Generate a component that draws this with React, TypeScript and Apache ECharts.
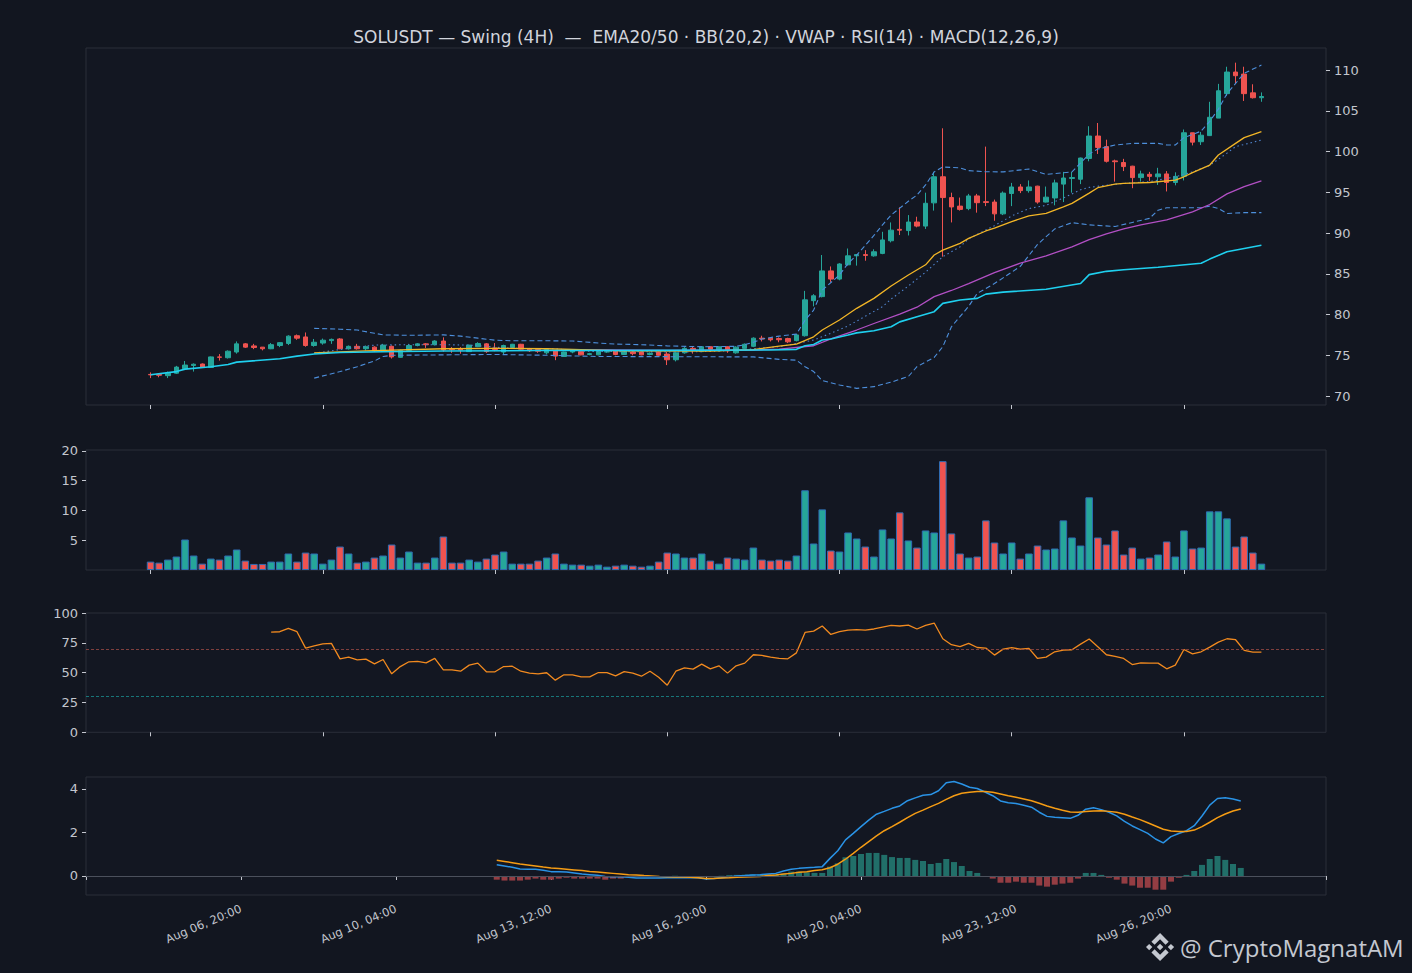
import React, { useEffect, useRef } from 'react';
import * as echarts from 'echarts';

// ---------------- data ----------------
const PAD = 7; // empty category slots on each side of the candles
const N_CATS = 144;
const MACD_X0 = 53; // position of first MACD point on the date axis (4H units)

// [open, close, low, high]
const CANDLES: number[][] = [
  [72.65, 72.6, 72.2, 72.9], [72.65, 72.55, 72.3, 72.8], [72.5, 72.8, 72.2, 73.0], [72.8, 73.55, 72.7, 73.7],
  [73.35, 73.8, 73.2, 74.3], [73.75, 73.9, 73.0, 74.0], [73.93, 73.5, 73.45, 74.0], [73.5, 74.8, 73.45, 74.85],
  [74.8, 74.75, 74.35, 75.15], [74.7, 75.5, 74.6, 75.6], [75.4, 76.4, 75.2, 76.7], [76.4, 76.0, 75.9, 76.5],
  [76.15, 75.95, 75.75, 76.4], [76.0, 75.8, 75.6, 76.0], [75.8, 76.3, 75.75, 76.5], [76.2, 76.55, 76.0, 76.6],
  [76.45, 77.35, 76.25, 77.45], [77.4, 77.1, 76.9, 77.55], [77.25, 76.2, 76.05, 77.8], [76.2, 76.6, 76.05, 77.0],
  [76.5, 76.85, 76.3, 77.05], [76.8, 76.95, 76.4, 77.05], [77.0, 75.8, 75.75, 77.1], [75.8, 76.1, 75.7, 76.2],
  [76.1, 75.8, 75.7, 76.4], [75.8, 76.05, 75.6, 76.2], [76.0, 75.55, 75.4, 76.1], [75.6, 76.25, 75.5, 76.4],
  [76.1, 74.8, 74.6, 76.2], [74.75, 75.6, 74.7, 75.7], [75.6, 76.2, 75.5, 76.4], [76.2, 76.4, 76.1, 76.5],
  [76.4, 76.3, 75.9, 76.5], [76.3, 76.75, 76.2, 76.85], [76.75, 75.65, 75.45, 77.2], [75.8, 75.7, 75.3, 76.0],
  [75.75, 75.65, 75.2, 76.0], [75.45, 76.25, 75.4, 76.3], [76.05, 76.45, 76.0, 76.6], [76.4, 75.45, 75.3, 76.5],
  [75.9, 75.7, 75.5, 76.5], [75.4, 76.2, 75.1, 76.3], [75.95, 76.35, 75.9, 76.4], [76.35, 75.75, 75.7, 76.4],
  [75.75, 75.55, 75.4, 75.9], [75.7, 75.5, 75.3, 75.8], [75.3, 75.7, 75.1, 75.8], [75.55, 74.9, 74.4, 75.6],
  [74.85, 75.4, 74.8, 75.45], [75.4, 75.6, 75.25, 75.7], [75.45, 75.05, 75.0, 75.5], [75.1, 75.2, 75.0, 75.3],
  [75.05, 75.5, 75.0, 75.6], [75.4, 75.45, 75.3, 75.55], [75.5, 75.1, 75.0, 75.55], [75.1, 75.5, 75.05, 75.55],
  [75.4, 75.2, 75.0, 75.5], [75.4, 75.05, 75.0, 75.45], [75.1, 75.25, 75.0, 75.35], [75.4, 75.0, 74.95, 75.45],
  [75.15, 74.45, 73.8, 75.4], [74.45, 75.3, 74.25, 75.45], [75.3, 75.85, 75.2, 76.0], [75.85, 75.6, 75.2, 76.1],
  [75.45, 76.05, 75.4, 76.1], [76.05, 75.75, 75.6, 76.1], [75.55, 76.05, 75.5, 76.1], [76.05, 75.55, 75.3, 76.1],
  [75.3, 76.0, 75.2, 76.1], [75.85, 76.35, 75.8, 76.45], [76.1, 77.1, 76.0, 77.2], [77.1, 77.0, 76.7, 77.4],
  [77.1, 76.9, 76.7, 77.2], [77.05, 76.9, 76.6, 77.2], [77.05, 76.65, 76.5, 77.15], [76.8, 77.5, 76.7, 77.6],
  [77.4, 81.8, 77.3, 82.9], [81.7, 82.3, 81.0, 82.5], [82.2, 85.35, 82.1, 87.3], [85.35, 84.35, 84.0, 85.9],
  [84.35, 86.2, 84.2, 86.3], [86.1, 87.2, 86.0, 88.1], [87.2, 87.35, 86.0, 87.4], [87.35, 87.25, 86.6, 87.9],
  [87.2, 87.7, 87.1, 88.0], [87.5, 89.15, 87.4, 90.15], [89.05, 90.35, 88.85, 91.3], [90.45, 90.35, 89.75, 93.15],
  [90.3, 91.35, 89.7, 92.2], [91.35, 90.85, 90.7, 92.0], [90.85, 93.65, 90.5, 94.95], [93.7, 96.9, 92.75, 97.5],
  [96.9, 94.35, 87.1, 102.85], [94.35, 93.2, 91.3, 94.95], [93.3, 92.9, 92.75, 94.35], [93.0, 94.55, 92.8, 94.8],
  [94.55, 93.72, 92.5, 94.8], [93.85, 93.75, 93.3, 100.6], [93.8, 92.35, 91.5, 94.1], [92.35, 94.9, 92.2, 95.1],
  [94.85, 95.65, 93.3, 96.15], [95.65, 95.2, 94.9, 96.0], [95.2, 95.65, 94.95, 96.45], [95.75, 93.8, 93.6, 95.8],
  [93.8, 94.4, 93.75, 95.7], [94.3, 96.15, 93.4, 96.55], [96.0, 96.75, 93.8, 97.5], [96.7, 96.8, 94.95, 97.5],
  [96.6, 99.2, 96.0, 99.25], [99.15, 101.9, 98.8, 103.1], [101.9, 100.5, 99.7, 103.5], [100.6, 98.8, 98.65, 101.45],
  [98.85, 98.75, 96.3, 99.0], [98.65, 98.15, 97.6, 99.1], [98.2, 96.8, 95.5, 98.25], [96.8, 97.25, 96.3, 97.65],
  [97.2, 96.95, 96.4, 97.5], [96.9, 97.25, 95.9, 98.0], [97.25, 96.2, 95.1, 97.6], [96.2, 96.95, 95.85, 97.45],
  [96.95, 102.3, 96.45, 102.7], [102.3, 101.15, 100.75, 102.3], [101.2, 102.0, 100.8, 102.4], [101.95, 104.2, 101.9, 106.1],
  [104.1, 107.45, 104.1, 108.3], [107.1, 109.75, 106.8, 110.4], [109.75, 109.3, 108.3, 110.9], [109.5, 107.1, 106.2, 110.4],
  [107.2, 106.6, 106.5, 108.25], [106.6, 106.75, 106.1, 107.25],
];

const VOLUME: number[] = [
  1.41, 1.24, 1.75, 2.26, 5.12, 2.43, 1.07, 1.92, 1.75, 2.43,
  3.44, 1.58, 1.02, 1.02, 1.41, 1.41, 2.77, 1.41, 2.93, 2.77,
  1.07, 1.75, 3.94, 2.77, 1.24, 1.41, 2.09, 2.43, 4.28, 2.09,
  3.1, 1.24, 1.24, 2.09, 5.63, 1.24, 1.24, 1.75, 1.41, 1.92,
  2.6, 3.1, 1.07, 1.07, 1.07, 1.58, 2.09, 2.77, 1.07, 0.9,
  0.9, 0.73, 0.9, 0.56, 0.73, 0.9, 0.73, 0.56, 0.73, 1.41,
  2.93, 2.77, 2.09, 2.09, 2.77, 1.58, 1.07, 2.09, 1.92, 1.75,
  3.77, 1.75, 1.58, 1.75, 1.58, 2.43, 13.39, 4.45, 10.18, 3.27,
  3.1, 6.3, 5.29, 3.94, 2.26, 6.81, 5.29, 9.68, 4.96, 3.77,
  6.64, 6.3, 18.28, 6.14, 2.77, 2.09, 2.26, 8.33, 4.62, 2.77,
  4.62, 1.92, 2.77, 4.11, 3.44, 3.61, 8.33, 5.46, 4.11, 12.21,
  5.46, 4.28, 6.64, 2.6, 3.77, 1.92, 2.09, 2.6, 4.79, 2.26,
  6.64, 3.61, 3.77, 9.85, 9.85, 8.67, 3.94, 5.63, 2.93, 1.07,
];

// indicator readings: [candle index, value]
const EMA20: number[][] = [
  [19, 75.3], [25, 75.55], [34, 75.8], [40, 75.85], [46, 75.8], [55, 75.55], [65, 75.5], [70, 75.7],
  [73, 76.13], [75, 76.38], [77, 77.27], [78, 78.1], [80, 79.33], [82, 80.76], [84, 81.98], [86, 83.5],
  [88, 84.85], [90, 86.1], [91, 87.3], [92, 87.9], [94, 88.73], [95, 89.35], [97, 90.25], [98, 90.6],
  [100, 91.4], [102, 92.1], [104, 92.4], [106, 93.2], [107, 93.64], [109, 94.9], [110, 95.56], [112, 96.0],
  [113, 96.1], [116, 96.2], [119, 96.5], [120, 96.9], [121, 97.4], [123, 98.34], [124, 99.57], [126, 101.0],
  [127, 101.7], [129, 102.45],
];
const EMA50: number[][] = [
  [49, 75.7], [60, 75.6], [70, 75.65], [73, 75.75], [77, 76.17], [79, 77.0], [82, 78.1], [84, 78.9],
  [87, 80.06], [89, 80.9], [91, 82.2], [93, 82.95], [95, 83.8], [98, 85.13], [101, 86.3], [104, 87.2],
  [107, 88.3], [109, 89.2], [111, 89.9], [113, 90.5], [115, 91.0], [118, 91.6], [121, 92.6], [123, 93.5],
  [125, 94.8], [127, 95.7], [129, 96.4],
];
const VWAP: number[][] = [
  [0, 72.62], [3, 73.0], [4, 73.3], [7, 73.6], [9, 73.87], [10, 74.16], [15, 74.57], [17, 74.9],
  [19, 75.15], [22, 75.35], [27, 75.43], [34, 75.52], [45, 75.58], [60, 75.6], [72, 75.65], [75, 75.73],
  [76, 76.17], [77, 76.33], [78, 76.87], [79, 77.0], [81, 77.48], [82, 77.75], [84, 78.0], [86, 78.5],
  [87, 79.1], [89, 79.73], [91, 80.35], [92, 81.37], [94, 81.78], [96, 81.98], [97, 82.5], [99, 82.75],
  [104, 83.1], [108, 83.8], [109, 84.9], [111, 85.3], [113, 85.5], [117, 85.8], [122, 86.3], [123, 86.8],
  [125, 87.7], [129, 88.5],
];
const BB_UPPER: number[][] = [
  [19, 78.3], [22, 78.2], [24, 78.1], [26, 77.7], [27, 77.5], [30, 77.45], [34, 77.5], [36, 77.35],
  [38, 77.1], [40, 76.85], [42, 76.78], [46, 76.78], [49, 76.75], [52, 76.5], [54, 76.38], [57, 76.3],
  [60, 76.15], [64, 76.05], [68, 76.1], [69, 76.3], [70, 76.6], [71, 77.0], [73, 77.35], [75, 77.6],
  [76, 79.3], [77, 80.55], [78, 83.0], [80, 84.85], [81, 86.28], [82, 87.3], [84, 89.7], [85, 91.0],
  [86, 92.2], [88, 93.9], [89, 94.66], [90, 95.9], [91, 97.5], [92, 98.1], [94, 98.0], [95, 97.65],
  [97, 97.52], [99, 97.5], [102, 97.85], [104, 97.2], [106, 97.4], [107, 97.5], [108, 98.6], [109, 99.7],
  [110, 100.3], [112, 100.8], [114, 101.0], [117, 101.0], [118, 100.8], [119, 100.8], [120, 101.7], [122, 102.5],
  [123, 103.7], [124, 105.2], [125, 107.1], [127, 109.6], [129, 110.6],
];
const BB_MID: number[][] = [
  [19, 75.25], [22, 75.7], [24, 76.0], [26, 76.25], [30, 76.3], [34, 76.3], [37, 76.25], [40, 76.0],
  [42, 75.85], [47, 75.8], [50, 75.5], [55, 75.44], [62, 75.4], [66, 75.5], [69, 75.7], [71, 75.9],
  [73, 76.05], [75, 76.45], [77, 76.87], [79, 77.7], [81, 78.6], [83, 79.8], [85, 80.96], [86, 81.9],
  [88, 83.5], [90, 85.2], [92, 87.1], [94, 88.3], [95, 89.3], [97, 90.37], [98, 90.9], [100, 92.1],
  [102, 93.0], [104, 93.4], [106, 94.3], [108, 95.3], [109, 95.6], [112, 96.0], [116, 96.3], [119, 96.9],
  [121, 97.5], [123, 98.3], [125, 99.8], [126, 100.6], [129, 101.4],
];
const BB_LOWER: number[][] = [
  [19, 72.2], [22, 73.0], [24, 73.6], [26, 74.3], [27, 74.85], [28, 75.0], [34, 75.05], [40, 75.1],
  [46, 75.0], [52, 74.85], [60, 74.83], [70, 74.8], [73, 74.5], [75, 74.4], [76, 73.6], [77, 73.0],
  [78, 71.9], [80, 71.35], [82, 70.94], [84, 71.15], [86, 71.7], [88, 72.4], [89, 73.6], [91, 74.74],
  [92, 76.05], [93, 78.5], [95, 81.0], [96, 82.6], [98, 83.8], [99, 84.5], [101, 85.9], [103, 88.6],
  [105, 90.5], [107, 91.27], [109, 91.0], [112, 90.8], [114, 91.3], [116, 91.8], [117, 92.8], [118, 93.1],
  [122, 93.1], [123, 93.3], [124, 93.0], [125, 92.4], [127, 92.5], [129, 92.5],
];

const RSI_START = 14;
const RSI: number[] = [
  84.0, 84.3, 87.1, 84.3, 70.6, 72.5, 74.2, 74.5, 61.6, 63.0,
  60.75, 61.3, 57.4, 61.0, 49.0, 55.1, 59.1, 59.4, 58.2, 61.9,
  52.3, 52.3, 51.2, 56.3, 58.0, 50.7, 50.7, 55.1, 55.4, 51.2,
  49.6, 49.0, 49.9, 43.7, 48.2, 48.2, 46.5, 46.5, 50.1, 50.1,
  47.3, 50.9, 49.6, 47.0, 51.2, 46.2, 39.5, 51.2, 54.0, 53.0,
  57.1, 53.2, 55.7, 49.6, 55.7, 58.0, 65.0, 64.4, 63.0, 61.9,
  61.6, 66.6, 83.7, 84.8, 89.1, 82.0, 84.3, 85.7, 86.0, 85.7,
  86.6, 88.2, 89.6, 89.1, 89.9, 86.6, 89.6, 91.6, 78.4, 73.4,
  71.9, 74.5, 71.1, 70.6, 64.7, 69.7, 70.9, 69.7, 70.3, 61.9,
  63.0, 67.5, 68.9, 69.2, 73.9, 78.2, 71.7, 65.0, 63.6, 61.9,
  56.8, 58.2, 58.0, 58.0, 53.2, 56.3, 69.4, 65.8, 67.5, 71.4,
  75.6, 78.4, 77.6, 68.6, 67.2, 67.2,
];

const MACD_LINE: number[] = [
  0.52, 0.46, 0.40, 0.32, 0.31, 0.31, 0.26, 0.20, 0.20, 0.18,
  0.14, 0.09, 0.06, 0.03, -0.02, -0.03, -0.03, -0.06, -0.09, -0.09,
  -0.09, -0.09, -0.08, -0.08, -0.08, -0.08, -0.08, -0.14, -0.12, -0.08,
  -0.03, 0.0, 0.02, 0.05, 0.06, 0.09, 0.12, 0.23, 0.31, 0.35,
  0.38, 0.40, 0.43, 0.81, 1.16, 1.66, 1.96, 2.27, 2.57, 2.84,
  2.97, 3.11, 3.22, 3.46, 3.59, 3.71, 3.74, 3.92, 4.29, 4.34,
  4.23, 4.08, 4.02, 3.86, 3.69, 3.45, 3.37, 3.33, 3.25, 3.16,
  2.93, 2.74, 2.70, 2.68, 2.65, 2.79, 3.07, 3.14, 3.05, 2.93,
  2.76, 2.51, 2.30, 2.13, 1.96, 1.70, 1.52, 1.81, 1.95, 2.08,
  2.31, 2.76, 3.26, 3.56, 3.60, 3.54, 3.45,
];
const MACD_SIGNAL: number[] = [
  0.72, 0.67, 0.61, 0.55, 0.51, 0.46, 0.41, 0.37, 0.34, 0.31,
  0.28, 0.25, 0.21, 0.18, 0.15, 0.12, 0.09, 0.06, 0.05, 0.02,
  0.0, -0.02, -0.03, -0.05, -0.05, -0.06, -0.08, -0.11, -0.11, -0.09,
  -0.08, -0.06, -0.05, -0.03, -0.02, 0.02, 0.05, 0.09, 0.12, 0.17,
  0.20, 0.25, 0.29, 0.38, 0.54, 0.77, 1.04, 1.32, 1.58, 1.84,
  2.08, 2.27, 2.47, 2.68, 2.88, 3.03, 3.19, 3.34, 3.52, 3.69,
  3.80, 3.85, 3.88, 3.88, 3.85, 3.77, 3.69, 3.62, 3.54, 3.46,
  3.34, 3.22, 3.11, 3.02, 2.94, 2.93, 2.96, 2.99, 3.00, 2.97,
  2.93, 2.84, 2.71, 2.59, 2.45, 2.30, 2.15, 2.07, 2.04, 2.05,
  2.11, 2.27, 2.47, 2.68, 2.85, 2.99, 3.08,
];
const MACD_HIST: number[] = [
  -0.17, -0.21, -0.21, -0.21, -0.17, -0.12, -0.17, -0.17, -0.12, -0.08,
  -0.12, -0.12, -0.12, -0.12, -0.17, -0.12, -0.12, -0.04, -0.03, -0.02,
  -0.02, -0.01, 0.0, 0.01, -0.01, -0.02, -0.03, -0.04, -0.02, 0.01,
  0.04, 0.05, 0.06, 0.07, 0.07, 0.07, 0.07, 0.10, 0.20, 0.20,
  0.17, 0.14, 0.14, 0.43, 0.58, 0.86, 0.92, 1.01, 1.06, 1.06,
  0.97, 0.87, 0.83, 0.83, 0.74, 0.69, 0.55, 0.60, 0.78, 0.64,
  0.46, 0.23, 0.14, 0.0, -0.12, -0.31, -0.31, -0.26, -0.31, -0.31,
  -0.44, -0.49, -0.40, -0.35, -0.31, -0.12, 0.14, 0.14, 0.05, -0.08,
  -0.17, -0.35, -0.44, -0.54, -0.54, -0.63, -0.63, -0.26, -0.08, 0.05,
  0.23, 0.51, 0.78, 0.92, 0.74, 0.55, 0.37,
];

const X_TICK_LABELS: string[] = [
  '', 'Aug 06, 20:00', 'Aug 10, 04:00', 'Aug 13, 12:00', 'Aug 16, 20:00',
  'Aug 20, 04:00', 'Aug 23, 12:00', 'Aug 26, 20:00', '',
];
const PRICE_TICKS = [70, 75, 80, 85, 90, 95, 100, 105, 110];
const VOLUME_TICKS = [5, 10, 15, 20];
const RSI_TICKS = [0, 25, 50, 75, 100];
const MACD_TICKS = [0, 2, 4];

const TITLE = 'SOLUSDT — Swing (4H)  —  EMA20/50 · BB(20,2) · VWAP · RSI(14) · MACD(12,26,9)';
const WATERMARK = '@ CryptoMagnatAM';

// ---------------- styles ----------------
const BG = '#121620';
const PANEL = '#131722';
const BORDER = '#2a2e39';
const TEXT = '#c3c6ce';
const UP = '#26a69a';
const DOWN = '#ef5350';
const FONT = 'DejaVu Sans';

const LOGO_PATH =
  'M38.73 53.2 L63.32 28.62 L87.92 53.22 L102.23 38.91 L63.32 0 L24.42 38.9 Z ' +
  'M0 63.31 L14.3 49 L28.61 63.31 L14.3 77.61 Z ' +
  'M38.73 73.41 L63.32 98 L87.92 73.4 L102.23 87.69 L63.32 126.6 L24.41 87.72 Z ' +
  'M98.03 63.31 L112.33 49 L126.63 63.31 L112.33 77.61 Z ' +
  'M77.83 63.3 L63.32 48.78 L48.81 63.3 L63.32 77.81 Z';

echarts.graphic.registerShape('binanceLogo', echarts.graphic.extendPath(LOGO_PATH, {}));

function buildOption(): any {
  const cats = Array.from({ length: N_CATS }, (_, k) => String(k));
  const tickInterval = (idx: number) => {
    const i = idx - PAD;
    return i >= 0 && i <= 120 && i % 20 === 0;
  };
  const catAxis = (gridIndex: number) => ({
    type: 'category',
    gridIndex,
    data: cats,
    boundaryGap: true,
    axisLine: { show: false },
    axisTick: { show: true, alignWithLabel: true, interval: tickInterval, length: 4, lineStyle: { color: TEXT, width: 1 } },
    axisLabel: { show: false },
    splitLine: { show: false },
  });
  const valLabel = (ticks: number[]) => (v: number) => {
    const hit = ticks.some((t) => Math.abs(t - v) < 1e-6);
    return hit ? String(Math.round(v * 100) / 100) : '';
  };
  const yAxisBase = (gridIndex: number, position: string, ticks: number[]) => ({
    type: 'value',
    gridIndex,
    position,
    axisLine: { show: false },
    axisTick: { show: true, length: 4, lineStyle: { color: TEXT }, customValues: ticks },
    splitLine: { show: false },
    axisLabel: {
      color: TEXT,
      fontSize: 13,
      fontFamily: FONT,
      margin: 8,
      customValues: ticks,
      formatter: valLabel(ticks),
    },
  });

  const grid = (top: number, height: number) => ({
    left: 86, top, width: 1240, height,
    show: true, borderColor: BORDER, borderWidth: 1, backgroundColor: PANEL,
    containLabel: false, outerBoundsMode: 'none',
  });

  const mainLine = (name: string, pts: number[][], color: string, width: number, type: any) => ({
    name,
    type: 'line',
    xAxisIndex: 0,
    yAxisIndex: 0,
    data: pts.map(([i, v]) => [i + PAD, v]),
    symbol: 'none',
    showSymbol: false,
    smooth: false,
    lineStyle: { color, width, type },
    z: 3,
  });

  return {
    animation: false,
    backgroundColor: BG,
    title: {
      text: TITLE,
      left: 'center',
      top: 27,
      textStyle: { color: '#d1d4dc', fontSize: 17, fontWeight: 'normal', fontFamily: FONT, lineHeight: 20 },
      padding: 0,
    },
    grid: [grid(48, 357), grid(450, 120), grid(613, 119.3), grid(777, 118)],
    xAxis: [
      catAxis(0),
      catAxis(1),
      catAxis(2),
      {
        type: 'value',
        gridIndex: 3,
        min: 0,
        max: 160,
        interval: 20,
        axisLine: { show: false },
        axisTick: { show: true, length: 4, lineStyle: { color: TEXT } },
        splitLine: { show: false },
        axisLabel: {
          color: TEXT,
          fontSize: 11.5,
          fontFamily: FONT,
          rotate: 23,
          margin: 13,
          formatter: (v: number) => X_TICK_LABELS[Math.round(v / 20)] || '',
        },
      },
    ],
    yAxis: [
      { ...yAxisBase(0, 'right', PRICE_TICKS), min: 68.9, max: 112.7, minInterval: 5, maxInterval: 5 },
      { ...yAxisBase(1, 'left', VOLUME_TICKS), min: 0, max: 20.15, interval: 5 },
      { ...yAxisBase(2, 'left', RSI_TICKS), min: 0, max: 100, interval: 25 },
      { ...yAxisBase(3, 'left', MACD_TICKS), min: -0.874, max: 4.55, minInterval: 2, maxInterval: 2 },
    ],
    series: [
      {
        name: 'Candles',
        type: 'candlestick',
        xAxisIndex: 0,
        yAxisIndex: 0,
        data: CANDLES.map((c, i) => [i + PAD, c[0], c[1], c[2], c[3]]),
        encode: { x: 0, y: [1, 2, 3, 4] },
        barWidth: 5,
        itemStyle: { color: UP, color0: DOWN, borderColor: UP, borderColor0: DOWN, borderWidth: 1 },
        z: 2,
      },
      mainLine('BB upper', BB_UPPER, '#4d8fdc', 1.1, [5, 3]),
      mainLine('BB lower', BB_LOWER, '#4d8fdc', 1.1, [5, 3]),
      mainLine('BB mid', BB_MID, '#4f83cc', 1.1, [1.5, 3]),
      mainLine('EMA50', EMA50, '#b24fc4', 1.3, 'solid'),
      mainLine('EMA20', EMA20, '#f2b526', 1.3, 'solid'),
      mainLine('VWAP', VWAP, '#1fd0ef', 1.6, 'solid'),
      {
        name: 'Volume',
        type: 'bar',
        xAxisIndex: 1,
        yAxisIndex: 1,
        barWidth: '88%',
        data: VOLUME.map((v, i) => ({
          value: [i + PAD, v],
          itemStyle: { color: CANDLES[i][1] >= CANDLES[i][0] ? UP : DOWN },
        })),
        itemStyle: { borderColor: '#2f6db3', borderWidth: 1 },
      },
      {
        name: 'RSI',
        type: 'line',
        xAxisIndex: 2,
        yAxisIndex: 2,
        data: RSI.map((v, k) => [k + RSI_START + PAD, v]),
        symbol: 'none',
        showSymbol: false,
        lineStyle: { color: '#f28a1f', width: 1.3 },
        markLine: {
          silent: true,
          symbol: 'none',
          label: { show: false },
          data: [
            { yAxis: 70, lineStyle: { color: '#9c4a44', type: [3, 2], width: 0.8 } },
            { yAxis: 30, lineStyle: { color: '#1b8f8f', type: [3, 2], width: 0.8 } },
          ],
        },
      },
      {
        name: 'MACD hist',
        type: 'bar',
        xAxisIndex: 3,
        yAxisIndex: 3,
        barWidth: 6,
        data: MACD_HIST.map((v, j) => ({
          value: [MACD_X0 + j, v],
          itemStyle: { color: v >= 0 ? '#216f69' : '#943d43' },
        })),
        markLine: {
          silent: true,
          symbol: 'none',
          label: { show: false },
          lineStyle: { color: '#4b505c', width: 1, type: 'solid' },
          data: [{ yAxis: 0 }],
        },
      },
      {
        name: 'MACD',
        type: 'line',
        xAxisIndex: 3,
        yAxisIndex: 3,
        data: MACD_LINE.map((v, j) => [MACD_X0 + j, v]),
        symbol: 'none',
        showSymbol: false,
        lineStyle: { color: '#2a93e6', width: 1.5 },
        z: 3,
      },
      {
        name: 'Signal',
        type: 'line',
        xAxisIndex: 3,
        yAxisIndex: 3,
        data: MACD_SIGNAL.map((v, j) => [MACD_X0 + j, v]),
        symbol: 'none',
        showSymbol: false,
        lineStyle: { color: '#f59c14', width: 1.5 },
        z: 3,
      },
    ],
    graphic: [
      {
        type: 'binanceLogo',
        x: 1146,
        y: 933,
        scaleX: 0.222,
        scaleY: 0.222,
        style: { fill: '#c4c8d0' },
        silent: true,
      },
      {
        type: 'text',
        x: 1180,
        y: 947,
        silent: true,
        style: {
          text: WATERMARK,
          fill: '#c4c8d0',
          fontSize: 24,
          fontFamily: 'Open Sans',
          align: 'left',
          verticalAlign: 'middle',
        },
      },
    ],
  };
}

export default function App() {
  const ref = useRef<HTMLDivElement>(null);
  useEffect(() => {
    document.body.style.margin = '0';
    document.body.style.background = BG;
    if (!ref.current) return;
    const chart = echarts.init(ref.current, undefined, { renderer: 'svg' });
    chart.setOption(buildOption());
    return () => chart.dispose();
  }, []);
  return <div ref={ref} style={{ position: 'fixed', left: 0, top: 0, width: 1412, height: 973 }} />;
}
